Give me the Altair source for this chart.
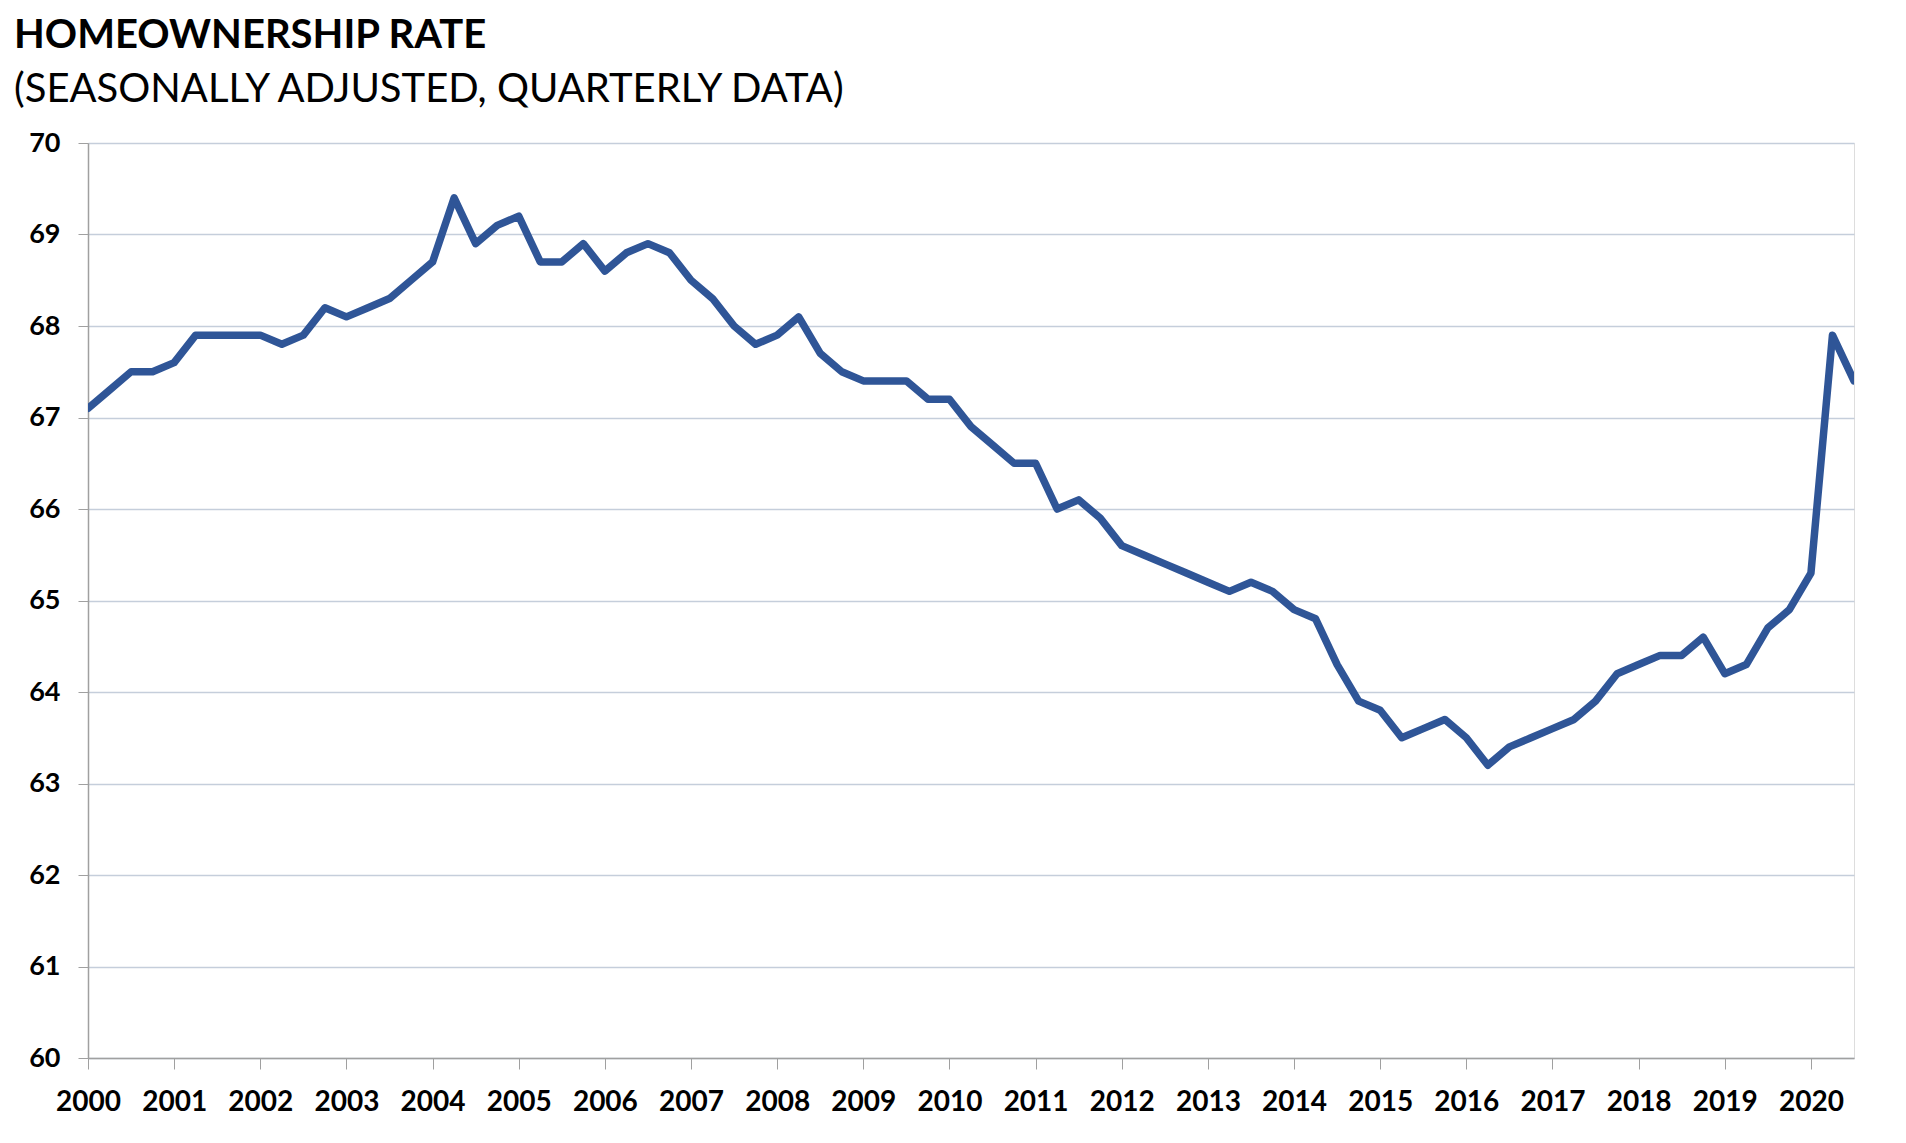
import altair as alt
import pandas as pd

# Homeownership rate, seasonally adjusted, quarterly 2000Q1 .. 2020Q3
years = list(range(2000, 2021))
rate = [
    67.1, 67.3, 67.5, 67.5,   # 2000
    67.6, 67.9, 67.9, 67.9,   # 2001
    67.9, 67.8, 67.9, 68.2,   # 2002
    68.1, 68.2, 68.3, 68.5,   # 2003
    68.7, 69.4, 68.9, 69.1,   # 2004
    69.2, 68.7, 68.7, 68.9,   # 2005
    68.6, 68.8, 68.9, 68.8,   # 2006
    68.5, 68.3, 68.0, 67.8,   # 2007
    67.9, 68.1, 67.7, 67.5,   # 2008
    67.4, 67.4, 67.4, 67.2,   # 2009
    67.2, 66.9, 66.7, 66.5,   # 2010
    66.5, 66.0, 66.1, 65.9,   # 2011
    65.6, 65.5, 65.4, 65.3,   # 2012
    65.2, 65.1, 65.2, 65.1,   # 2013
    64.9, 64.8, 64.3, 63.9,   # 2014
    63.8, 63.5, 63.6, 63.7,   # 2015
    63.5, 63.2, 63.4, 63.5,   # 2016
    63.6, 63.7, 63.9, 64.2,   # 2017
    64.3, 64.4, 64.4, 64.6,   # 2018
    64.2, 64.3, 64.7, 64.9,   # 2019
    65.3, 67.9, 67.4,         # 2020
]
quarters = [f"{y}Q{q}" for y in years for q in range(1, 5)][: len(rate)]
y_ticks = list(range(60, 71))

df = pd.DataFrame({
    "quarter": quarters,
    "t": [int(s[:4]) + (int(s[-1]) - 1) / 4 for s in quarters],
    "rate": rate,
})

line = alt.Chart(df).mark_line(
    color="#2F5597", strokeWidth=7.5, strokeCap="round", strokeJoin="round", clip=True
).encode(
    x=alt.X("t:Q",
            scale=alt.Scale(domain=[2000, 2020.5], nice=False, zero=False),
            axis=alt.Axis(values=years, format="d", title=None, grid=False,
                          labelFont="Lato", labelFontWeight="bold", labelFontSize=28,
                          labelColor="#000000", labelPadding=19, tickSize=11,
                          tickColor="#A0A0A0", domainColor="#A0A0A0", domainWidth=1.5,
                          labelOverlap=False, labelFlush=False)),
    y=alt.Y("rate:Q",
            scale=alt.Scale(domain=[60, 70], nice=False, zero=False),
            axis=alt.Axis(values=y_ticks, format="d", title=None, grid=True,
                          gridColor="#C5CEDB", gridWidth=1.5,
                          labelFont="Lato", labelFontWeight="bold", labelFontSize=27,
                          labelColor="#000000", labelPadding=18, tickSize=10,
                          tickColor="#A0A0A0", domainColor="#A0A0A0", domainWidth=1.5)),
)

chart = line.properties(
    width=1766,
    height=915,
    autosize=alt.AutoSizeParams(type="none"),
    padding={"left": 80, "top": 135, "right": 44, "bottom": 77},
    title=alt.TitleParams(
        text="HOMEOWNERSHIP RATE",
        subtitle="(SEASONALLY ADJUSTED, QUARTERLY DATA)",
        anchor="start",
        frame="group",
        dx=-74,
        font="Lato",
        fontSize=40,
        fontWeight="bold",
        color="#000000",
        subtitleFont="Lato",
        subtitleFontSize=40,
        subtitleColor="#000000",
        subtitlePadding=14,
        offset=19,
    ),
).configure_view(stroke=None).configure(background="#FFFFFF")

chart.save("out.html", embed_options={"renderer": "svg", "actions": False})
